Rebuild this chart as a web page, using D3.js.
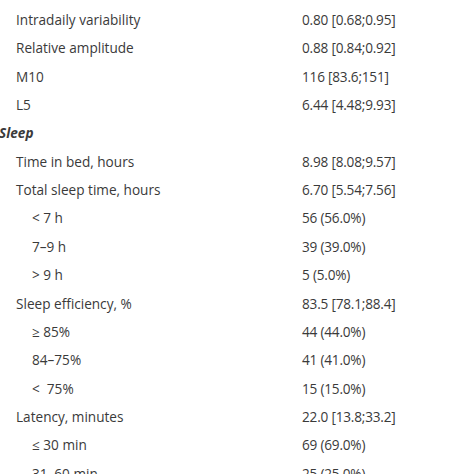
<!DOCTYPE html><html><head><meta charset="utf-8">
<script src="https://cdn.jsdelivr.net/npm/d3@7"></script>
<style>body{margin:0;background:#fff}</style></head><body>
<svg id="c" width="474" height="474"></svg>
<script>
const labels=["Intradaily variability","Relative amplitude","M10","L5","Sleep","Time in bed, hours","Total sleep time, hours","< 7 h","7–9 h","> 9 h","Sleep efficiency, %","≥ 85%","84–75%","<  75%","Latency, minutes","≤ 30 min","31–60 min"];
const levels=[1,1,1,1,0,1,1,2,2,2,1,2,2,2,1,2,2];
const values=["0.80 [0.68;0.95]","0.88 [0.84;0.92]","116 [83.6;151]","6.44 [4.48;9.93]","","8.98 [8.08;9.57]","6.70 [5.54;7.56]","56 (56.0%)","39 (39.0%)","5 (5.0%)","83.5 [78.1;88.4]","44 (44.0%)","41 (41.0%)","15 (15.0%)","22.0 [13.8;33.2]","69 (69.0%)","25 (25.0%)"];
const svg=d3.select("#c");
const y=d3.scaleLinear().domain([0,16]).range([20,474]);
const x=d3.scaleOrdinal().domain([0,1,2]).range([-1,16,32]);
const rows=svg.selectAll("g").data(labels).join("g").attr("transform",(d,i)=>`translate(0,${y(i)})`);
rows.append("text").attr("x",(d,i)=>x(levels[i])).attr("dy","0.35em")
 .attr("font-family","Open Sans").attr("font-size",13.6).attr("fill","#3a3a3a")
 .attr("font-weight",(d,i)=>levels[i]===0?"bold":"normal").attr("font-style",(d,i)=>levels[i]===0?"italic":"normal")
 .style("white-space","pre").text(d=>d);
rows.append("text").attr("x",302).attr("dy","0.35em").attr("font-family","Open Sans").attr("font-size",13.6).attr("fill","#3a3a3a").attr("letter-spacing",-0.2).text((d,i)=>values[i]);
</script></body></html>
